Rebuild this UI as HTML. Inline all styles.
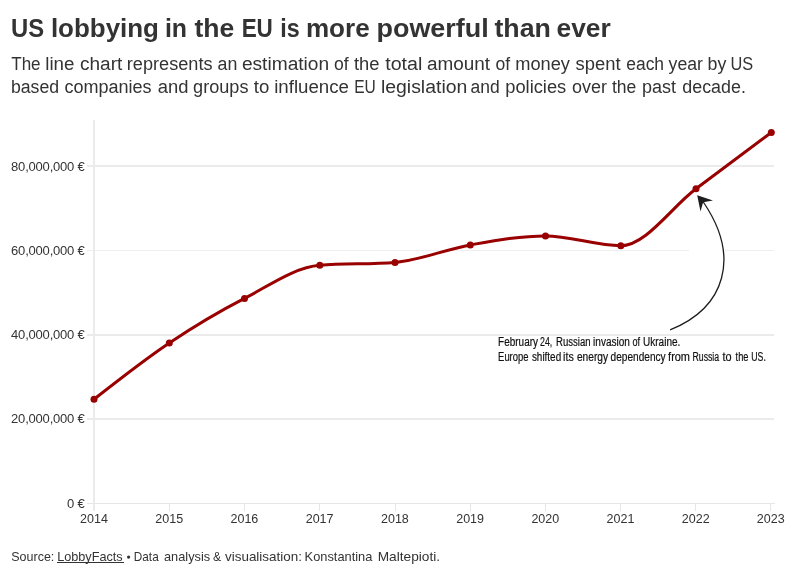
<!DOCTYPE html>
<html>
<head>
<meta charset="utf-8">
<style>
html,body{margin:0;padding:0;background:#fff;}
body{width:800px;height:575px;overflow:hidden;}
svg{display:block;will-change:transform;}
text{font-family:"Liberation Sans",sans-serif;}
.ttl{font-size:26px;font-weight:700;fill:#333;}
.sub{font-size:18px;fill:#333;}
.yl{font-size:13px;fill:#333;letter-spacing:-0.2px;}
.xl{font-size:12.5px;fill:#333;}
.ann{font-size:12px;fill:#111;stroke:#111;stroke-width:0.2px;}
.ft{font-size:13px;fill:#333;}
</style>
</head>
<body>
<svg width="800" height="575" viewBox="0 0 800 575">
  <rect width="800" height="575" fill="#fff"/>
  <!-- title -->
  <text class="ttl" x="10.98" y="37" textLength="33.08" lengthAdjust="spacingAndGlyphs">US</text>
  <text class="ttl" x="50.90" y="37" textLength="108.08" lengthAdjust="spacingAndGlyphs">lobbying</text>
  <text class="ttl" x="164.94" y="37" textLength="22.15" lengthAdjust="spacingAndGlyphs">in</text>
  <text class="ttl" x="194.40" y="37" textLength="39.82" lengthAdjust="spacingAndGlyphs">the</text>
  <text class="ttl" x="241.64" y="37" textLength="31.24" lengthAdjust="spacingAndGlyphs">EU</text>
  <text class="ttl" x="280.35" y="37" textLength="19.46" lengthAdjust="spacingAndGlyphs">is</text>
  <text class="ttl" x="305.90" y="37" textLength="63.76" lengthAdjust="spacingAndGlyphs">more</text>
  <text class="ttl" x="376.46" y="37" textLength="112.31" lengthAdjust="spacingAndGlyphs">powerful</text>
  <text class="ttl" x="494.40" y="37" textLength="56.51" lengthAdjust="spacingAndGlyphs">than</text>
  <text class="ttl" x="556.49" y="37" textLength="54.23" lengthAdjust="spacingAndGlyphs">ever</text>
  <!-- subtitle -->
  <text class="sub" x="11.25" y="69.6" textLength="29.36" lengthAdjust="spacingAndGlyphs">The</text>
  <text class="sub" x="45.26" y="69.6" textLength="29.15" lengthAdjust="spacingAndGlyphs">line</text>
  <text class="sub" x="80.00" y="69.6" textLength="42.30" lengthAdjust="spacingAndGlyphs">chart</text>
  <text class="sub" x="126.79" y="69.6" textLength="85.71" lengthAdjust="spacingAndGlyphs">represents</text>
  <text class="sub" x="217.50" y="69.6" textLength="19.80" lengthAdjust="spacingAndGlyphs">an</text>
  <text class="sub" x="241.90" y="69.6" textLength="87.28" lengthAdjust="spacingAndGlyphs">estimation</text>
  <text class="sub" x="334.10" y="69.6" textLength="14.63" lengthAdjust="spacingAndGlyphs">of</text>
  <text class="sub" x="354.00" y="69.6" textLength="25.51" lengthAdjust="spacingAndGlyphs">the</text>
  <text class="sub" x="385.20" y="69.6" textLength="37.09" lengthAdjust="spacingAndGlyphs">total</text>
  <text class="sub" x="426.90" y="69.6" textLength="63.10" lengthAdjust="spacingAndGlyphs">amount</text>
  <text class="sub" x="495.60" y="69.6" textLength="14.67" lengthAdjust="spacingAndGlyphs">of</text>
  <text class="sub" x="515.24" y="69.6" textLength="54.76" lengthAdjust="spacingAndGlyphs">money</text>
  <text class="sub" x="575.60" y="69.6" textLength="45.00" lengthAdjust="spacingAndGlyphs">spent</text>
  <text class="sub" x="626.25" y="69.6" textLength="37.83" lengthAdjust="spacingAndGlyphs">each</text>
  <text class="sub" x="668.60" y="69.6" textLength="34.39" lengthAdjust="spacingAndGlyphs">year</text>
  <text class="sub" x="707.51" y="69.6" textLength="18.79" lengthAdjust="spacingAndGlyphs">by</text>
  <text class="sub" x="730.49" y="69.6" textLength="22.71" lengthAdjust="spacingAndGlyphs">US</text>
  <text class="sub" x="10.92" y="92.9" textLength="48.18" lengthAdjust="spacingAndGlyphs">based</text>
  <text class="sub" x="64.40" y="92.9" textLength="87.10" lengthAdjust="spacingAndGlyphs">companies</text>
  <text class="sub" x="157.80" y="92.9" textLength="30.73" lengthAdjust="spacingAndGlyphs">and</text>
  <text class="sub" x="193.10" y="92.9" textLength="55.40" lengthAdjust="spacingAndGlyphs">groups</text>
  <text class="sub" x="253.75" y="92.9" textLength="15.51" lengthAdjust="spacingAndGlyphs">to</text>
  <text class="sub" x="274.21" y="92.9" textLength="74.80" lengthAdjust="spacingAndGlyphs">influence</text>
  <text class="sub" x="354.14" y="92.9" textLength="21.63" lengthAdjust="spacingAndGlyphs">EU</text>
  <text class="sub" x="380.92" y="92.9" textLength="86.42" lengthAdjust="spacingAndGlyphs">legislation</text>
  <text class="sub" x="470.60" y="92.9" textLength="29.13" lengthAdjust="spacingAndGlyphs">and</text>
  <text class="sub" x="505.23" y="92.9" textLength="61.02" lengthAdjust="spacingAndGlyphs">policies</text>
  <text class="sub" x="571.90" y="92.9" textLength="34.99" lengthAdjust="spacingAndGlyphs">over</text>
  <text class="sub" x="611.90" y="92.9" textLength="24.36" lengthAdjust="spacingAndGlyphs">the</text>
  <text class="sub" x="642.10" y="92.9" textLength="34.00" lengthAdjust="spacingAndGlyphs">past</text>
  <text class="sub" x="682.30" y="92.9" textLength="63.59" lengthAdjust="spacingAndGlyphs">decade.</text>

  <!-- gridlines -->
  <g fill="#ebebeb">
    <rect x="87" y="165" width="687" height="2"/>
    <rect x="87" y="250" width="602" height="1" fill="#eeeeee"/>
    <rect x="725" y="250" width="49" height="1" fill="#eeeeee"/>
    <rect x="87" y="334" width="687" height="2"/>
    <rect x="87" y="418" width="687" height="2"/>
    <rect x="87" y="503" width="688" height="1" fill="#e6e6e6"/>
    <rect x="93" y="120" width="2" height="391"/>
  </g>
  <g fill="#e6e6e6">
    <rect x="169" y="503" width="1" height="8"/>
    <rect x="244" y="503" width="1" height="8"/>
    <rect x="319" y="503" width="1" height="8"/>
    <rect x="395" y="503" width="1" height="8"/>
    <rect x="470" y="503" width="1" height="8"/>
    <rect x="545" y="503" width="1" height="8"/>
    <rect x="620" y="503" width="1" height="8"/>
    <rect x="695" y="503" width="1" height="8"/>
    <rect x="770" y="503" width="1" height="8"/>
  </g>

  <!-- y labels -->
  <g class="yl" text-anchor="end" transform="translate(1.1,0)">
    <text x="83.5" y="170.9">80,000,000 €</text>
    <text x="83.5" y="254.9">60,000,000 €</text>
    <text x="83.5" y="339.4">40,000,000 €</text>
    <text x="83.5" y="423.4">20,000,000 €</text>
    <text x="83.5" y="507.8">0 €</text>
  </g>
  <!-- x labels -->
  <g class="xl" text-anchor="middle">
    <text x="94" y="522.6">2014</text>
    <text x="169.2" y="522.6">2015</text>
    <text x="244.4" y="522.6">2016</text>
    <text x="319.6" y="522.6">2017</text>
    <text x="394.9" y="522.6">2018</text>
    <text x="470.1" y="522.6">2019</text>
    <text x="545.3" y="522.6">2020</text>
    <text x="620.5" y="522.6">2021</text>
    <text x="695.7" y="522.6">2022</text>
    <text x="770.7" y="522.6">2023</text>
  </g>

  <!-- line -->
  <path d="M94,399.3C119.10,379.56,144.20,359.83,169.3,343C194.37,326.20,219.43,311.34,244.5,298.4C269.60,285.44,294.70,267.24,319.8,265.3C344.87,263.37,369.93,264.33,395,262.4C420.10,260.46,445.20,249.32,470.3,244.9C495.37,240.49,520.43,235.90,545.5,235.9C570.60,235.90,595.70,245.70,620.8,245.7C645.87,245.70,670.93,207.65,696,188.8C721.10,169.92,746.20,151.21,771.3,132.5" fill="none" stroke="#990000" stroke-width="3" stroke-linejoin="round" stroke-linecap="round"/>
  <g fill="#990000">
    <circle cx="94" cy="399.3" r="3.5"/>
    <circle cx="169.3" cy="343" r="3.5"/>
    <circle cx="244.5" cy="298.4" r="3.5"/>
    <circle cx="319.8" cy="265.3" r="3.5"/>
    <circle cx="395" cy="262.4" r="3.5"/>
    <circle cx="470.3" cy="244.9" r="3.5"/>
    <circle cx="545.5" cy="235.9" r="3.5"/>
    <circle cx="620.8" cy="245.7" r="3.5"/>
    <circle cx="696" cy="188.8" r="3.5"/>
    <circle cx="771.3" cy="132.5" r="3.5"/>
  </g>

  <!-- annotation arrow -->
  <path d="M670.1,329.9C725.8,307.3 740.5,256.7 703.3,202" fill="none" stroke="#1d1d1d" stroke-width="1.3"/>
  <path d="M697.2,195.2L713,200.5L703.1,202.2L700.5,211.5Z" fill="#1d1d1d"/>
  <!-- annotation text -->
  <text class="ann" x="498.10" y="346.0" textLength="39.90" lengthAdjust="spacingAndGlyphs">February</text>
  <text class="ann" x="540.00" y="346.0" textLength="12.25" lengthAdjust="spacingAndGlyphs">24,</text>
  <text class="ann" x="556.00" y="346.0" textLength="34.54" lengthAdjust="spacingAndGlyphs">Russian</text>
  <text class="ann" x="593.10" y="346.0" textLength="36.86" lengthAdjust="spacingAndGlyphs">invasion</text>
  <text class="ann" x="632.50" y="346.0" textLength="7.59" lengthAdjust="spacingAndGlyphs">of</text>
  <text class="ann" x="643.10" y="346.0" textLength="37.18" lengthAdjust="spacingAndGlyphs">Ukraine.</text>
  <text class="ann" x="498.10" y="360.8" textLength="30.39" lengthAdjust="spacingAndGlyphs">Europe</text>
  <text class="ann" x="531.90" y="360.8" textLength="29.26" lengthAdjust="spacingAndGlyphs">shifted</text>
  <text class="ann" x="563.10" y="360.8" textLength="10.65" lengthAdjust="spacingAndGlyphs">its</text>
  <text class="ann" x="576.90" y="360.8" textLength="31.20" lengthAdjust="spacingAndGlyphs">energy</text>
  <text class="ann" x="610.60" y="360.8" textLength="55.00" lengthAdjust="spacingAndGlyphs">dependency</text>
  <text class="ann" x="668.10" y="360.8" textLength="21.90" lengthAdjust="spacingAndGlyphs">from</text>
  <text class="ann" x="692.50" y="360.8" textLength="26.66" lengthAdjust="spacingAndGlyphs">Russia</text>
  <text class="ann" x="722.50" y="360.8" textLength="9.10" lengthAdjust="spacingAndGlyphs">to</text>
  <text class="ann" x="735.60" y="360.8" textLength="12.90" lengthAdjust="spacingAndGlyphs">the</text>
  <text class="ann" x="751.25" y="360.8" textLength="14.59" lengthAdjust="spacingAndGlyphs">US.</text>

  <!-- footer -->
  <text class="ft" x="11.25" y="560.8" textLength="43.09" lengthAdjust="spacingAndGlyphs">Source:</text>
  <text class="ft" x="57.13" y="560.8" textLength="65.49" lengthAdjust="spacingAndGlyphs">LobbyFacts</text>
  <text class="ft" x="133.84" y="560.8" textLength="24.86" lengthAdjust="spacingAndGlyphs">Data</text>
  <text class="ft" x="164.00" y="560.8" textLength="46.11" lengthAdjust="spacingAndGlyphs">analysis</text>
  <text class="ft" x="213.10" y="560.8" textLength="8.09" lengthAdjust="spacingAndGlyphs">&amp;</text>
  <text class="ft" x="225.00" y="560.8" textLength="76.88" lengthAdjust="spacingAndGlyphs">visualisation:</text>
  <text class="ft" x="304.61" y="560.8" textLength="67.73" lengthAdjust="spacingAndGlyphs">Konstantina</text>
  <text class="ft" x="377.70" y="560.8" textLength="62.35" lengthAdjust="spacingAndGlyphs">Maltepioti.</text>
  <rect x="57" y="562" width="67" height="1" fill="#333"/>
  <circle cx="128.6" cy="557.1" r="1.6" fill="#333"/>
</svg>
</body>
</html>
